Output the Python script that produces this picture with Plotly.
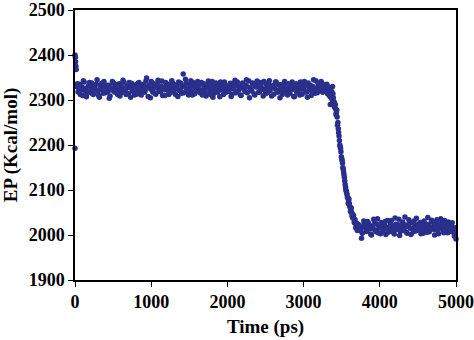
import numpy as np
import plotly.graph_objects as go

# ---- data ----
start_time = [0, 0, 5, 8, 12, 15]
start_ep = [2193, 2400, 2395, 2385, 2375, 2368]

plateau1_time = np.arange(20, 3281, 20)
plateau1_ep = [
    2330, 2318, 2335, 2322, 2310, 2340, 2326, 2315, 2332, 2320, 2338, 2312, 2328, 2335, 2319, 2306, 2330, 2324, 2341, 2316,
    2327, 2333, 2309, 2322, 2338, 2318, 2329, 2312, 2336, 2325, 2317, 2340, 2321, 2331, 2314, 2328, 2337, 2320, 2311, 2334,
    2323, 2339, 2316, 2329, 2335, 2320, 2349, 2308, 2326, 2341, 2318, 2330, 2313, 2336, 2324, 2319, 2342, 2327, 2310, 2332,
    2321, 2335, 2317, 2338, 2326, 2312, 2331, 2340, 2322, 2315, 2358, 2329, 2337, 2318, 2325, 2343, 2311, 2330, 2334, 2320,
    2328, 2316, 2339, 2323, 2331, 2309, 2336, 2326, 2319, 2341, 2314, 2329, 2335, 2321, 2307, 2333, 2325, 2340, 2317, 2330,
    2322, 2337, 2313, 2329, 2344, 2319, 2331, 2326, 2310, 2338, 2324, 2333, 2316, 2342, 2327, 2320, 2335, 2311, 2329, 2339,
    2318, 2330, 2325, 2341, 2314, 2328, 2336, 2321, 2309, 2332, 2326, 2340, 2317, 2323, 2334, 2312, 2329, 2338, 2320, 2327,
    2315, 2331, 2324, 2307, 2336, 2319, 2328, 2340, 2313, 2325, 2333, 2318, 2338, 2322, 2310, 2330, 2327, 2343, 2316, 2332,
    2324, 2338, 2319, 2330,
]
plateau1_mid_time = np.arange(30, 3291, 20)
plateau1_mid_ep = [
    2336, 2325, 2312, 2329, 2343, 2321, 2307, 2318, 2339, 2327, 2314, 2331, 2322, 2345, 2310, 2324, 2337, 2315, 2328, 2333,
    2319, 2304, 2327, 2341, 2326, 2335, 2316, 2322, 2309, 2330, 2344, 2323, 2312, 2327, 2339, 2306, 2320, 2332, 2325, 2313,
    2338, 2329, 2311, 2324, 2317, 2342, 2328, 2333, 2305, 2321, 2336, 2315, 2327, 2344, 2319, 2331, 2310, 2323, 2339, 2326,
    2312, 2327, 2343, 2319, 2334, 2325, 2308, 2321, 2337, 2330, 2316, 2346, 2324, 2311, 2333, 2320, 2339, 2314, 2326, 2341,
    2333, 2320, 2311, 2336, 2318, 2327, 2342, 2313, 2331, 2306, 2324, 2338, 2317, 2329, 2340, 2322, 2312, 2335, 2326, 2319,
    2331, 2308, 2325, 2337, 2316, 2340, 2322, 2311, 2334, 2327, 2319, 2345, 2329, 2305, 2323, 2338, 2314, 2330, 2342, 2317,
    2327, 2339, 2309, 2322, 2335, 2317, 2343, 2326, 2330, 2313, 2340, 2321, 2334, 2305, 2328, 2318, 2341, 2324, 2311, 2336,
    2322, 2340, 2308, 2329, 2317, 2335, 2311, 2324, 2331, 2341, 2318, 2306, 2327, 2333, 2320, 2345, 2315, 2323, 2337, 2328,
    2341, 2317, 2333, 2322,
]

transition_time = np.arange(3290, 3721, 10)
transition_ep = [
    2325, 2318, 2330, 2322, 2312, 2328, 2290, 2306, 2318, 2330, 2305, 2296, 2288, 2280, 2272, 2262, 2250, 2228, 2210, 2196,
    2185, 2170, 2160, 2146, 2134, 2120, 2106, 2098, 2090, 2082, 2076, 2070, 2062, 2056, 2050, 2046, 2040, 2036, 2030, 2026,
    2022, 2018, 2024, 2012,
]
transition_mid_time = np.arange(3295, 3716, 10)
transition_mid_ep = [
    2320, 2335, 2314, 2327, 2318, 2308, 2324, 2312, 2300, 2314, 2292, 2284, 2290, 2268, 2278, 2244, 2236, 2220, 2200, 2192,
    2174, 2166, 2150, 2140, 2128, 2112, 2100, 2094, 2084, 2070, 2080, 2064, 2052, 2060, 2042, 2038, 2044, 2028, 2034, 2016,
    2026, 2010, 2020,
]

plateau2_time = np.arange(3740, 5001, 20)
plateau2_ep = [
    2010, 1993, 2018, 2025, 2008, 2030, 2014, 2002, 2020, 2035, 2011, 2024, 2005, 2017, 2028, 2009, 2021, 2001, 2032, 2013,
    2026, 2007, 2019, 2038, 2012, 2023, 1999, 2016, 2029, 2010, 2022, 2004, 2034, 2015, 2027, 2008, 2020, 2037, 2011, 2025,
    2003, 2018, 2031, 2014, 2006, 2024, 2012, 2033, 2019, 2000, 2027, 2010, 2021, 2036, 2015, 2005, 2023, 2013, 2029, 2008,
    2020, 2011, 1997, 1991,
]
plateau2_mid_time = np.arange(3730, 4991, 20)
plateau2_mid_ep = [
    2022, 2012, 2004, 2031, 2017, 2009, 2026, 2019, 2000, 2014, 2029, 2007, 2036, 2016, 2003, 2023, 2013, 2030, 2018, 2006,
    2015, 2032, 2011, 2002, 2024, 2017, 2035, 2008, 2021, 2013, 2040, 2006, 2019, 2026, 2001, 2014, 2031, 2009, 2022, 2016,
    2028, 2011, 2004, 2025, 2018, 2039, 2007, 2015, 2030, 2012, 2020, 2034, 2003, 2017, 2026, 2010, 2032, 2019, 2005, 2024,
    2014, 2027, 2005, 2016,
]

x_ticks = [0, 1000, 2000, 3000, 4000, 5000]
y_ticks = [1900, 2000, 2100, 2200, 2300, 2400, 2500]

time = (list(start_time) + list(plateau1_time) + list(plateau1_mid_time) + list(transition_time)
        + list(transition_mid_time) + list(plateau2_time) + list(plateau2_mid_time))
ep = (start_ep + plateau1_ep + plateau1_mid_ep + transition_ep + transition_mid_ep
      + plateau2_ep + plateau2_mid_ep)

fig = go.Figure(go.Scatter(
    x=time, y=ep, mode="markers",
    marker=dict(size=5.5, color="#2b2f8c", line=dict(width=0)),
    cliponaxis=False,
))

axis_common = dict(
    showline=True, mirror=True, linecolor="black", linewidth=1.5,
    showgrid=False, zeroline=False, ticks="outside", ticklen=5,
    tickcolor="black", tickwidth=1.2, ticklabeloverflow="allow",
    automargin=False,
    tickfont=dict(family="Liberation Serif", size=18, weight="bold", color="black"),
)

fig.update_layout(
    width=474, height=340,
    margin=dict(l=75, r=18, t=10, b=60),
    plot_bgcolor="white", paper_bgcolor="white",
    showlegend=False,
    xaxis=dict(range=[0, 5000], tickvals=x_ticks,
               title=dict(text="Time (ps)", standoff=8,
                          font=dict(family="Liberation Serif", size=19, weight="bold", color="black")),
               **axis_common),
    yaxis=dict(range=[1900, 2500], tickvals=y_ticks,
               title=dict(text="EP (Kcal/mol)", standoff=7,
                          font=dict(family="Liberation Serif", size=19, weight="bold", color="black")),
               **axis_common),
)

fig.write_html("out.html")
